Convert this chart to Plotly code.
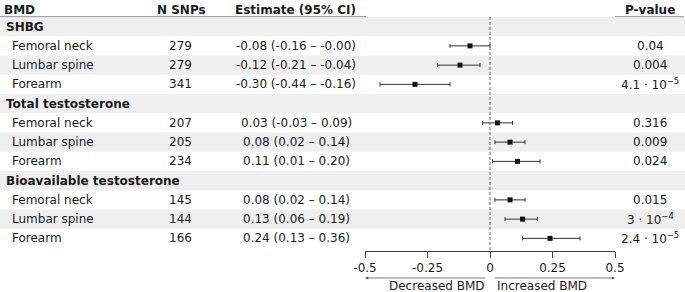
import plotly.graph_objects as go

# ---- data ----
groups = ["SHBG", "Total testosterone", "Bioavailable testosterone"]
sites = ["Femoral neck", "Lumbar spine", "Forearm"]
n_snps = [[279, 279, 341], [207, 205, 234], [145, 144, 166]]
estimate = [[-0.08, -0.12, -0.30], [0.03, 0.08, 0.11], [0.08, 0.13, 0.24]]
ci_low = [[-0.16, -0.21, -0.44], [-0.03, 0.02, 0.01], [0.02, 0.06, 0.13]]
ci_high = [[-0.00, -0.04, -0.16], [0.09, 0.14, 0.20], [0.14, 0.19, 0.36]]
p_values = [["0.04", "0.004", "4.1 · 10<sup>−5</sup>"],
            ["0.316", "0.009", "0.024"],
            ["0.015", "3 · 10<sup>−4</sup>", "2.4 · 10<sup>−5</sup>"]]
tick_vals = [-0.5, -0.25, 0, 0.25, 0.5]
tick_text = ["-0.5", "-0.25", "0", "0.25", "0.5"]
headers = ["BMD", "N SNPs", "Estimate (95% CI)", "P-value"]

W, H = 685, 292
FONT = "DejaVu Sans"
TXT = "#1a1a1a"

# build rows
rows = []  # (kind, label, n, est, lo, hi, p)
for g, grp in enumerate(groups):
    rows.append(("group", grp, None, None, None, None, None))
    for s, site in enumerate(sites):
        rows.append(("item", site, n_snps[g][s], estimate[g][s], ci_low[g][s], ci_high[g][s], p_values[g][s]))

n_rows = len(rows)
row_top_px, row_h_px, axis_px = 17.0, 19.25, 251.0
y_top = -(row_top_px + row_h_px / 2) / row_h_px
y_bot = (axis_px - row_top_px - row_h_px / 2) / row_h_px

def px(v):
    return v / W

fig = go.Figure()

ys, xs, em, ep = [], [], [], []
shapes, ann = [], []
for i, r in enumerate(rows):
    kind, label, n, est, lo, hi, p = r
    if i % 2 == 0:
        shapes.append(dict(type="rect", xref="paper", yref="y", x0=0, x1=1,
                           y0=i - 0.5, y1=i + 0.5, fillcolor="#efefef",
                           line=dict(width=0), layer="below"))
    if kind == "group":
        ann.append(dict(x=px(4), y=i, xref="paper", yref="y", text=f"<b>{label}</b>",
                        showarrow=False, xanchor="left", yanchor="middle",
                        font=dict(size=12, color=TXT, family=FONT)))
    else:
        ann.append(dict(x=px(10), y=i, xref="paper", yref="y", text=label,
                        showarrow=False, xanchor="left", yanchor="middle",
                        font=dict(size=12, color=TXT, family=FONT)))
        ann.append(dict(x=px(180), y=i, xref="paper", yref="y", text=str(n),
                        showarrow=False, xanchor="center", yanchor="middle",
                        font=dict(size=12, color=TXT, family=FONT)))
        est_txt = f"{est:.2f} ({lo:.2f} – {hi:.2f})"
        ann.append(dict(x=px(296), y=i, xref="paper", yref="y", text=est_txt,
                        showarrow=False, xanchor="center", yanchor="middle",
                        font=dict(size=12, color=TXT, family=FONT)))
        ann.append(dict(x=px(650), y=i, xref="paper", yref="y", text=p,
                        showarrow=False, xanchor="center", yanchor="middle",
                        font=dict(size=12, color=TXT, family=FONT)))
        ys.append(i)
        xs.append(est)
        em.append(est - lo)
        ep.append(hi - est)

# header
hy = -0.86
for txt, x, anc in zip(headers, [2, 181, 295, 650], ["left", "center", "center", "center"]):
    ann.append(dict(x=px(x), y=hy, xref="paper", yref="y", text=f"<b>{txt}</b>",
                    showarrow=False, xanchor=anc, yanchor="middle",
                    font=dict(size=12, color=TXT, family=FONT)))
shapes.append(dict(type="line", xref="paper", yref="y", x0=0, x1=px(366), y0=-0.52, y1=-0.52,
                   line=dict(color="#999999", width=1)))
shapes.append(dict(type="line", xref="paper", yref="y", x0=px(615), x1=px(684), y0=-0.52, y1=-0.52,
                   line=dict(color="#999999", width=1)))
# zero line
shapes.append(dict(type="line", xref="x", yref="y", x0=0, x1=0, y0=-0.5, y1=n_rows - 0.3,
                   line=dict(color="#666666", width=1, dash="3px,2px")))

fig.add_trace(go.Scatter(
    x=xs, y=ys, mode="markers",
    marker=dict(symbol="square", size=5, color="#111111"),
    error_x=dict(type="data", symmetric=False, array=ep, arrayminus=em,
                 color="#333333", thickness=1, width=2),
    cliponaxis=False, hoverinfo="skip", showlegend=False))

# direction arrows
arrow_y = (H - 278) / H
ann.append(dict(x=-0.5, y=arrow_y, xref="x", yref="paper", ax=-0.012, ay=0,
                axref="x", ayref="pixel", showarrow=True, arrowhead=2, arrowsize=0.8,
                arrowwidth=0.8, arrowcolor="#555555", text=""))
ann.append(dict(x=0.5, y=arrow_y, xref="x", yref="paper", ax=0.012, ay=0,
                axref="x", ayref="pixel", showarrow=True, arrowhead=2, arrowsize=0.8,
                arrowwidth=0.8, arrowcolor="#555555", text=""))
lab_y = (H - 285.5) / H
ann.append(dict(x=-0.012, y=lab_y, xref="x", yref="paper", text="Decreased BMD",
                showarrow=False, xanchor="right", yanchor="middle",
                font=dict(size=12, color=TXT, family=FONT)))
ann.append(dict(x=0.02, y=lab_y, xref="x", yref="paper", text="Increased BMD",
                showarrow=False, xanchor="left", yanchor="middle",
                font=dict(size=12, color=TXT, family=FONT)))

fig.update_layout(
    width=W, height=H, margin=dict(l=0, r=0, t=0, b=0, pad=0, autoexpand=False),
    paper_bgcolor="white", plot_bgcolor="rgba(0,0,0,0)",
    shapes=shapes, annotations=ann,
    font=dict(family=FONT, size=12, color=TXT),
    xaxis=dict(domain=[365 / W, 615 / W], range=[-0.5, 0.5], tickvals=tick_vals,
               ticktext=tick_text, showgrid=False, zeroline=False, showline=True,
               linecolor="#444444", linewidth=1, ticks="outside", ticklen=6,
               tickcolor="#444444", tickfont=dict(size=12, color=TXT, family=FONT),
               fixedrange=True, automargin=False),
    yaxis=dict(domain=[(H - axis_px) / H, 1], range=[y_bot, y_top], visible=False,
               showgrid=False, zeroline=False, fixedrange=True, automargin=False),
)

fig.write_html("out.html", config={"displayModeBar": False},
               post_script="document.body.style.margin='0';document.body.style.overflow='hidden';")
